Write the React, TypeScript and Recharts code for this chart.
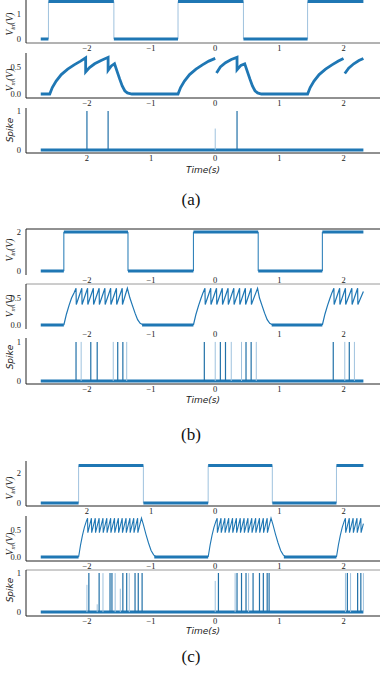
import React from 'react';
import { LineChart, Line, XAxis, YAxis, ReferenceLine } from 'recharts';

// ---------- data ----------
const X_TICKS = [-2, -1, 0, 1, 2];

// Input square waves: edge times and the level held between consecutive edges
const vinEdgesA = [-2.72, -2.6, -1.58, -0.58, 0.44, 1.44, 2.31];
const vinLevelsA = [0, 1.5, 0, 1.5, 0, 1.5];
const vinEdgesB = [-2.72, -2.36, -1.36, -0.34, 0.67, 1.67, 2.31];
const vinLevelsB = [0, 2, 0, 2, 0, 2];
const vinEdgesC = [-2.72, -2.13, -1.12, -0.11, 0.89, 1.89, 2.31];
const vinLevelsC = [0, 2.5, 0, 2.5, 0, 2.5];

type Seg = [number, number | null];

// Membrane voltage (a)
const vmA: Seg[] = [
  [-2.72, 0], [-2.58, 0], [-2.54, 0.12], [-2.48, 0.24], [-2.4, 0.36], [-2.3, 0.46], [-2.2, 0.54], [-2.1, 0.61], [-2.02, 0.67],
  [-2.02, 0.41], [-1.96, 0.49], [-1.88, 0.56], [-1.78, 0.62], [-1.67, 0.68],
  [-1.67, 0.44], [-1.62, 0.52], [-1.57, 0.56],
  [-1.53, 0.42], [-1.49, 0.28], [-1.45, 0.15], [-1.41, 0.06], [-1.37, 0.02], [-1.3, 0],
  [-0.58, 0], [-0.54, 0.12], [-0.48, 0.24], [-0.4, 0.36], [-0.3, 0.46], [-0.2, 0.54], [-0.1, 0.61], [0.0, 0.66],
  [0.01, null],
  [0.02, 0.39], [0.08, 0.5], [0.16, 0.58], [0.25, 0.64], [0.34, 0.68],
  [0.34, 0.45], [0.4, 0.53], [0.46, 0.56],
  [0.5, 0.42], [0.54, 0.28], [0.58, 0.15], [0.62, 0.06], [0.66, 0.02], [0.72, 0],
  [1.44, 0], [1.48, 0.12], [1.54, 0.24], [1.62, 0.36], [1.72, 0.46], [1.82, 0.54], [1.92, 0.61], [2.0, 0.66],
  [2.01, null],
  [2.02, 0.38], [2.08, 0.48], [2.16, 0.56], [2.24, 0.62], [2.31, 0.66],
];

// Membrane voltage (b): resting segments, rise, tooth peaks, decay
const vmFlatB = [[-2.72, -2.36], [-1.14, -0.34], [0.88, 1.67]];
const vmHiB = 0.68;
const vmLoB = 0.38;
const riseB1: Seg[] = [[-2.36, 0], [-2.32, 0.2], [-2.28, 0.36], [-2.24, 0.5], [-2.2, 0.6]];
const peaksB1 = [-2.17, -2.08, -1.99, -1.9, -1.81, -1.72, -1.63, -1.54, -1.45, -1.37];
const decayB1: Seg[] = [[-1.33, 0.5], [-1.29, 0.36], [-1.25, 0.22], [-1.21, 0.1], [-1.17, 0.03], [-1.12, 0]];
const riseB2: Seg[] = [[-0.34, 0], [-0.3, 0.2], [-0.26, 0.36], [-0.22, 0.5], [-0.19, 0.6]];
const peaksB2 = [-0.16, -0.07, 0.02, 0.11, 0.2, 0.29, 0.38, 0.47, 0.56, 0.66];
const decayB2: Seg[] = [[0.69, 0.5], [0.73, 0.36], [0.77, 0.22], [0.81, 0.1], [0.85, 0.03], [0.9, 0]];
const riseB3: Seg[] = [[1.67, 0], [1.71, 0.2], [1.75, 0.36], [1.79, 0.5], [1.82, 0.6]];
const peaksB3 = [1.85, 1.94, 2.03, 2.13, 2.22];
const tailB3: Seg[] = [[2.224, 0.38], [2.31, 0.62]];

// Membrane voltage (c)
const vmFlatC = [[-2.72, -2.13], [-0.95, -0.11], [1.07, 1.89]];
const vmHiC = 0.72;
const vmLoC = 0.45;
const riseC1: Seg[] = [[-2.13, 0], [-2.1, 0.22], [-2.07, 0.4], [-2.04, 0.55], [-2.01, 0.66]];
const peaksC1 = [-1.99, -1.93, -1.87, -1.81, -1.75, -1.69, -1.63, -1.57, -1.51, -1.45, -1.39, -1.33, -1.27, -1.21, -1.15];
const decayC1: Seg[] = [[-1.12, 0.6], [-1.08, 0.42], [-1.04, 0.26], [-1.0, 0.12], [-0.96, 0.04], [-0.92, 0]];
const riseC2: Seg[] = [[-0.11, 0], [-0.08, 0.22], [-0.05, 0.4], [-0.02, 0.55], [0.01, 0.66]];
const peaksC2 = [0.03, 0.09, 0.15, 0.21, 0.27, 0.33, 0.39, 0.45, 0.51, 0.57, 0.63, 0.69, 0.75, 0.81, 0.87];
const decayC2: Seg[] = [[0.9, 0.6], [0.94, 0.42], [0.98, 0.26], [1.02, 0.12], [1.06, 0.04], [1.1, 0]];
const riseC3: Seg[] = [[1.89, 0], [1.92, 0.22], [1.95, 0.4], [1.98, 0.55], [2.01, 0.66]];
const peaksC3 = [2.03, 2.09, 2.15, 2.21, 2.27];
const tailC3: Seg[] = [[2.274, 0.45], [2.31, 0.62]];

// Spike trains
const spikeSpan = [-2.72, 2.31];
const spikesDarkA = [-2.0, -1.67, 0.34];
const spikesLightA = [0.0];
const spikesLightHA = [0.55];
const spikesDarkB = [-2.17, -1.94, -1.84, -1.52, -1.44, -0.17, 0.08, 0.16, 0.48, 0.56, 1.84, 2.09];
const spikesLightB = [-2.09, -1.59, -1.38, 0.0, 0.25, 0.41, 0.64, 2.02, 2.17];
const spikesLightHB = [1, 1, 1, 1, 1, 1, 1, 1, 1];
const spikesDarkC = [-1.97, -1.81, -1.64, -1.61, -1.44, -1.38, -1.25, -1.2, -1.14, 0.05, 0.34, 0.41, 0.48, 0.59, 0.69, 0.75, 0.81, 0.84, 2.06, 2.22, 2.27];
const spikesLightC = [-2.0, -1.84, -1.75, -1.56, -1.48, -1.34, 0.0, 0.31, 0.52, 2.03, 2.11, 2.31];
const spikesLightHC = [0.7, 0.2, 1, 1, 0.6, 1, 0.8, 1, 1, 1, 1, 1];

// ---------- builders ----------
type Pt = { x: number; y: number | null };
const toPts = (l: Seg[]): Pt[] => l.map(([x, y]) => ({ x, y }));
function levelPts(edges: number[], levels: number[]): Pt[] {
  const out: Pt[] = [];
  levels.forEach((lv, i) => {
    out.push({ x: edges[i], y: lv }, { x: edges[i + 1], y: lv }, { x: edges[i + 1], y: null });
  });
  return out;
}
function edgePts(edges: number[], levels: number[]): Pt[] {
  const out: Pt[] = [];
  for (let i = 1; i < levels.length; i++) {
    out.push({ x: edges[i], y: levels[i - 1] }, { x: edges[i], y: levels[i] }, { x: edges[i], y: null });
  }
  return out;
}
function flatPts(segs: number[][]): Pt[] {
  const out: Pt[] = [];
  segs.forEach(([a, b]) => out.push({ x: a, y: 0 }, { x: b, y: 0 }, { x: b, y: null }));
  return out;
}
function spikePts(times: number[], heights?: number[]): Pt[] {
  const out: Pt[] = [];
  times.forEach((t, i) => out.push({ x: t, y: 0 }, { x: t, y: heights ? heights[i] : 1 }, { x: t, y: null }));
  return out;
}
function burst(rise: Seg[], peaks: number[], hi: number, lo: number, end: Seg[]): Seg[] {
  const out: Seg[] = [...rise];
  peaks.forEach((p, i) => {
    out.push([p, hi]);
    if (i < peaks.length - 1) out.push([p + 0.004, lo]);
  });
  out.push(...end);
  return out;
}
const brk = (x: number): Seg[] => [[x, null]];

const vmActiveB = toPts([
  ...burst(riseB1, peaksB1, vmHiB, vmLoB, decayB1), ...brk(-1.0),
  ...burst(riseB2, peaksB2, vmHiB, vmLoB, decayB2), ...brk(1.0),
  ...burst(riseB3, peaksB3, vmHiB, vmLoB, tailB3),
]);
const vmActiveC = toPts([
  ...burst(riseC1, peaksC1, vmHiC, vmLoC, decayC1), ...brk(-0.5),
  ...burst(riseC2, peaksC2, vmHiC, vmLoC, decayC2), ...brk(1.5),
  ...burst(riseC3, peaksC3, vmHiC, vmLoC, tailC3),
]);

// ---------- styles ----------
const BLUE = '#1f77b4';
const DARK_SPIKE = '#2271a8';
const LIGHT = '#9fc2de';
const AXIS = '#222';
const GRAY = '#9a9a9a';
const serif = '"Liberation Serif", "DejaVu Serif", serif';
const sans = '"DejaVu Sans", "Liberation Sans", sans-serif';
const tickStyle = { fontFamily: serif, fontSize: 8.5, fill: '#222' };

const minusFmt = (v: number) => (v < 0 ? '\u2212' + Math.abs(v) : String(v));
const plainFmt = (v: number) => String(Math.abs(v));

interface Series { data: Pt[]; color: string; width: number }
interface PanelProps {
  top: number; bottom: number; domain: [number, number]; yTicks: number[]; yDigits: number;
  xFmt: (v: number) => string; series: Series[]; yLabel: 'in' | 'm' | 'spike'; yLabelY: number;
  topBorder?: string; xAxisColor?: string; xLabelY?: number;
}

function YLabelText({ kind, cy }: { kind: string; cy: number }) {
  const x = 10;
  if (kind === 'spike') {
    return (
      <text x={x} y={cy} transform={`rotate(-90 ${x} ${cy})`} textAnchor="middle" dominantBaseline="central"
        fontFamily={sans} fontStyle="italic" fontSize={9} fill="#222">Spike</text>
    );
  }
  return (
    <text x={x} y={cy} transform={`rotate(-90 ${x} ${cy})`} textAnchor="middle" dominantBaseline="central"
      fontFamily={serif} fontStyle="italic" fontSize={9.5} fill="#222">
      <tspan>V</tspan><tspan fontSize={6.5} dy={2}>{kind}</tspan><tspan dy={-2}>(V)</tspan>
    </text>
  );
}

function Panel(p: PanelProps) {
  const mTop = 4;
  const xH = p.xLabelY ? 28 : 14;
  const plotH = p.bottom - p.top;
  const chartTop = p.top - mTop;
  const height = mTop + plotH + xH;
  const yFmt = (v: number) => v.toFixed(p.yDigits);
  return (
    <div style={{ position: 'absolute', left: 0, top: chartTop, width: 382, height }}>
      <LineChart width={382} height={height} margin={{ top: mTop, right: 0, bottom: 0, left: 0 }}>
        <XAxis type="number" dataKey="x" domain={[-2.95, 2.6]} ticks={X_TICKS} allowDataOverflow interval={0}
          tickFormatter={p.xFmt} tick={tickStyle} tickLine={false} tickSize={1} tickMargin={1}
          axisLine={p.xAxisColor ? { stroke: p.xAxisColor } : false} height={xH}
          label={p.xLabelY ? () => (
            <text x={203} y={p.xLabelY! - chartTop} textAnchor="middle" dominantBaseline="central"
              fontFamily={sans} fontStyle="italic" fontSize={9} fill="#222">Time(s)</text>
          ) : undefined} />
        <YAxis type="number" domain={p.domain} ticks={p.yTicks} allowDataOverflow interval={0} width={26}
          tickFormatter={yFmt} tick={tickStyle} tickLine={false} tickSize={2} tickMargin={3}
          axisLine={{ stroke: AXIS }}
          label={() => <YLabelText kind={p.yLabel} cy={p.yLabelY - chartTop} />} />
        {p.topBorder ? <ReferenceLine y={p.domain[1]} stroke={p.topBorder} strokeWidth={1} /> : null}
        {p.series.map((s, i) => (
          <Line key={i} data={s.data} dataKey="y" type="linear" stroke={s.color} strokeWidth={s.width}
            dot={false} activeDot={false} isAnimationActive={false} connectNulls={false} />
        ))}
      </LineChart>
    </div>
  );
}

function Caption({ text, y }: { text: string; y: number }) {
  return (
    <div style={{ position: 'absolute', left: 0, top: y - 10, width: 382, textAlign: 'center',
      fontFamily: serif, fontSize: 17, lineHeight: '20px', color: '#111' }}>{text}</div>
  );
}

export default function App() {
  const baseline = flatPts([spikeSpan]);
  return (
    <div style={{ position: 'absolute', left: 0, top: 0, width: 380, height: 676, overflow: 'hidden', background: '#fff' }}>
      {/* (a) */}
      <Panel top={-1} bottom={43} domain={[-0.16, 1.6]} yTicks={[0, 1]} yDigits={0} xFmt={minusFmt}
        yLabel="in" yLabelY={24} xAxisColor="#666"
        series={[
          { data: edgePts(vinEdgesA, vinLevelsA), color: LIGHT, width: 1 },
          { data: levelPts(vinEdgesA, vinLevelsA), color: BLUE, width: 3 },
        ]} />
      <Panel top={53} bottom={98} domain={[-0.074, 0.76]} yTicks={[0, 0.5]} yDigits={1} xFmt={minusFmt}
        yLabel="m" yLabelY={80} xAxisColor={AXIS}
        series={[{ data: toPts(vmA), color: BLUE, width: 2.8 }]} />
      <Panel top={108} bottom={153} domain={[-0.077, 1.077]} yTicks={[0, 1]} yDigits={0} xFmt={plainFmt}
        yLabel="spike" yLabelY={130} xAxisColor={AXIS} xLabelY={170}
        series={[
          { data: baseline, color: BLUE, width: 3 },
          { data: spikePts(spikesLightA, spikesLightHA), color: LIGHT, width: 1 },
          { data: spikePts(spikesDarkA), color: DARK_SPIKE, width: 1.2 },
        ]} />
      <Caption text="(a)" y={200} />

      {/* (b) */}
      <Panel top={229} bottom={275} domain={[-0.2, 2.15]} yTicks={[0, 2]} yDigits={0} xFmt={minusFmt}
        yLabel="in" yLabelY={250} topBorder={AXIS}
        series={[
          { data: edgePts(vinEdgesB, vinLevelsB), color: BLUE, width: 1 },
          { data: levelPts(vinEdgesB, vinLevelsB), color: BLUE, width: 3 },
        ]} />
      <Panel top={284} bottom={329} domain={[-0.074, 0.76]} yTicks={[0, 0.5]} yDigits={1} xFmt={minusFmt}
        yLabel="m" yLabelY={306} topBorder={GRAY}
        series={[
          { data: flatPts(vmFlatB), color: BLUE, width: 3 },
          { data: vmActiveB, color: BLUE, width: 1.2 },
        ]} />
      <Panel top={338} bottom={384} domain={[-0.077, 1.1]} yTicks={[0, 1]} yDigits={0} xFmt={minusFmt}
        yLabel="spike" yLabelY={357} xAxisColor={AXIS} xLabelY={400}
        series={[
          { data: baseline, color: BLUE, width: 3 },
          { data: spikePts(spikesLightB, spikesLightHB), color: LIGHT, width: 1 },
          { data: spikePts(spikesDarkB), color: DARK_SPIKE, width: 1.2 },
        ]} />
      <Caption text="(b)" y={435} />

      {/* (c) */}
      <Panel top={461} bottom={506} domain={[-0.2, 2.8]} yTicks={[0, 2]} yDigits={0} xFmt={plainFmt}
        yLabel="in" yLabelY={488} xAxisColor={AXIS}
        series={[
          { data: edgePts(vinEdgesC, vinLevelsC), color: LIGHT, width: 1 },
          { data: levelPts(vinEdgesC, vinLevelsC), color: BLUE, width: 3 },
        ]} />
      <Panel top={516} bottom={561} domain={[-0.074, 0.76]} yTicks={[0, 0.5]} yDigits={1} xFmt={minusFmt}
        yLabel="m" yLabelY={544} xAxisColor={AXIS}
        series={[
          { data: flatPts(vmFlatC), color: BLUE, width: 3 },
          { data: vmActiveC, color: BLUE, width: 1.1 },
        ]} />
      <Panel top={570} bottom={616} domain={[-0.1, 1.08]} yTicks={[0, 1]} yDigits={0} xFmt={minusFmt}
        yLabel="spike" yLabelY={590} topBorder={GRAY} xAxisColor={AXIS} xLabelY={631}
        series={[
          { data: baseline, color: BLUE, width: 3 },
          { data: spikePts(spikesLightC, spikesLightHC), color: LIGHT, width: 1 },
          { data: spikePts(spikesDarkC), color: DARK_SPIKE, width: 1.2 },
        ]} />
      <Caption text="(c)" y={657} />
    </div>
  );
}
